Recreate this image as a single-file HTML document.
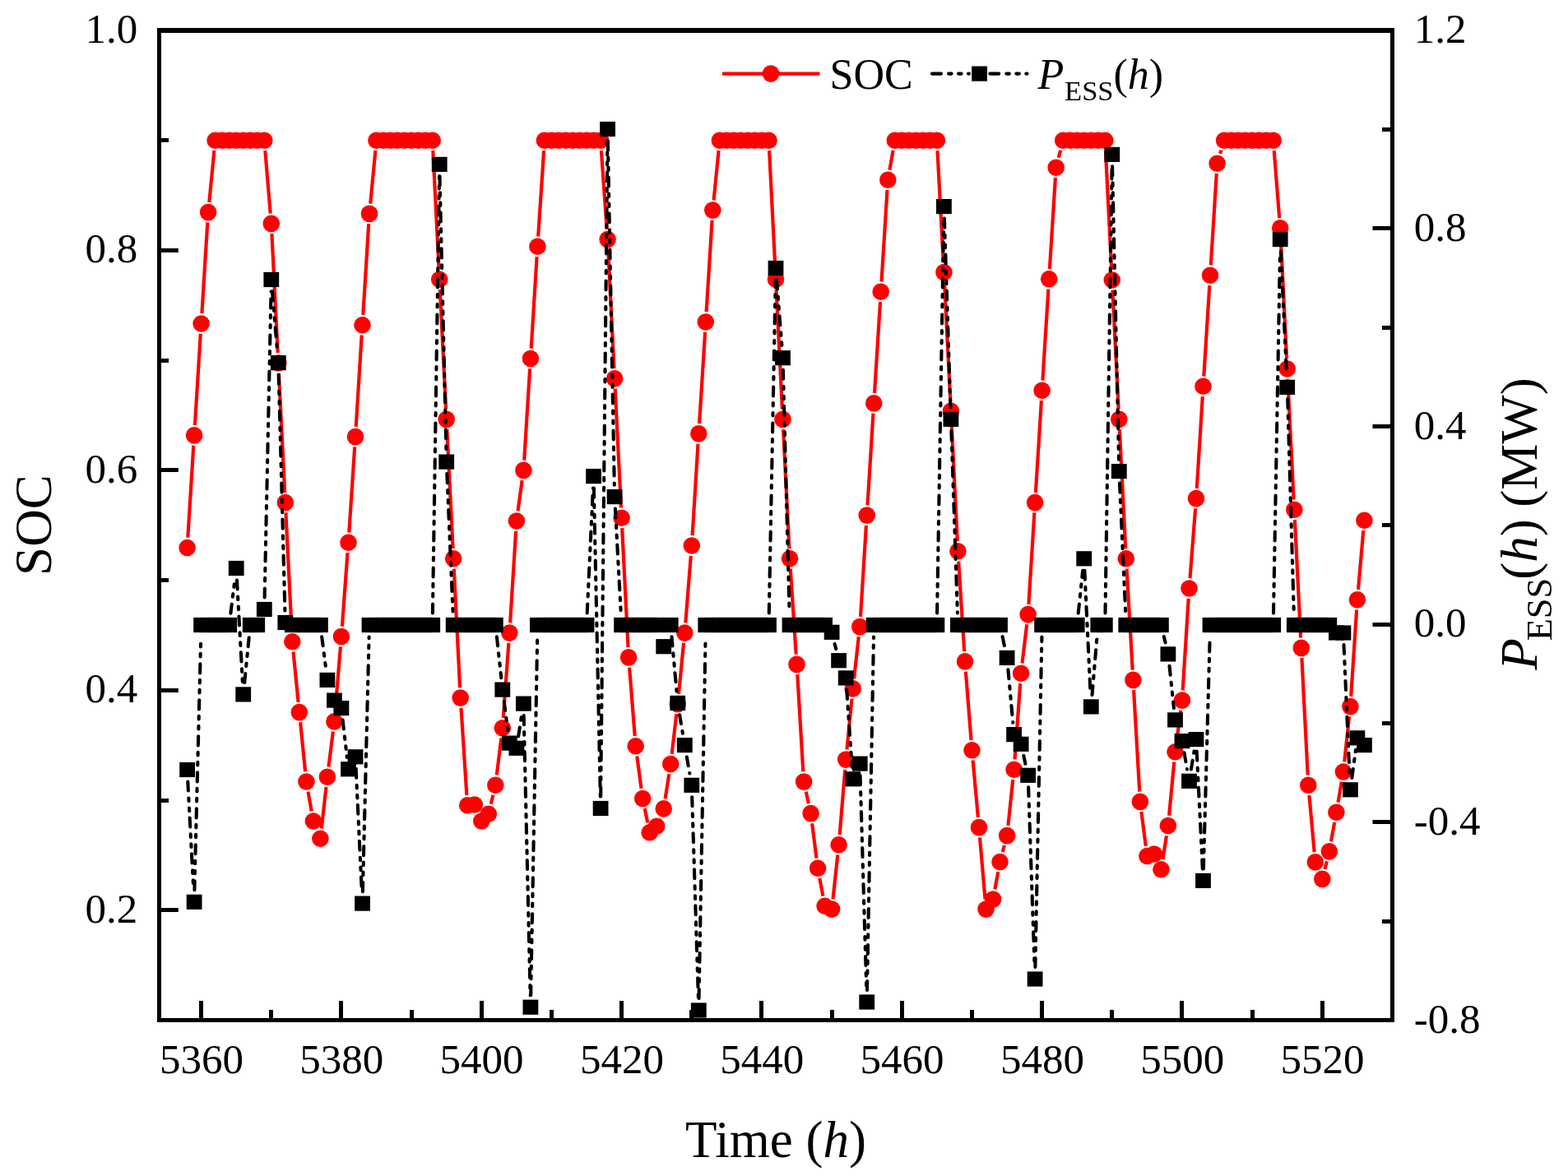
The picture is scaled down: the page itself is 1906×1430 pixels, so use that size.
<!DOCTYPE html>
<html lang="en"><head><meta charset="utf-8"><title>SOC and P_ESS(h) versus Time</title>
<style>html,body{margin:0;padding:0;background:#fff;overflow:hidden}svg{display:block}text{font-family:"Liberation Serif",serif;fill:#000}</style></head><body>
<svg width="1906" height="1430" viewBox="0 0 1906 1430">
<rect width="1906" height="1430" fill="#fff"/>
<g id="soc">
<path d="M228.3 653.7L235.3 541.7M236.9 517.1L243.8 405.8M245.4 381.2L252.3 270.4M254.3 245.9L260.4 183M322.3 183.1L328.7 259.6M330.4 284.2L337.7 429.2M338.9 453.8L346.2 598.8M347.4 623.4L354.7 767.9M356.5 792.4L362.6 853.9M365.1 878.3L371.1 938.3M374.5 962.6L378.7 986.4M390.8 1007.5L396.5 957M399.4 932.6L404.9 889.6M407.4 865.1L413.9 786.3M415.9 761.7L422.5 672.1M424.3 647.5L431.2 543.4M432.7 518.8L439.7 407.5M441.3 382.9L448.2 272.2M450.2 247.7L456.4 183M526.3 183.1L533.6 327.5M534.8 352.1L542.1 497.6M543.3 522.2L550.6 667M551.8 691.6L559.1 836.3M560.5 860.9L567.4 967M596.7 977.8L599.4 966.7M603.8 942.6L609.3 897.5M611.7 873L618.4 781.9M620.1 757.3L627.1 645.8M629.5 621.3L634.7 584.1M637.2 559.6L644.1 448.3M645.7 423.7L652.6 312.1M654.2 287.5L661.1 183.1M730.9 183.1L737.7 278.8M739.2 303.4L746.5 448.1M747.7 472.7L755 617.5M756.2 642.1L763.5 787.1M765.1 811.7L771.7 895M774.3 919.5L779.5 958.8M783.7 983L787.2 1000.3M808.6 971.2L813.3 941.2M816.7 916.8L822.3 868.3M825 843.9L831.1 781.8M833.3 757.3L839.8 675.8M841.6 651.2L848.5 539.7M850.1 515.1L857.1 403.8M858.6 379.2L865.6 267.9M867.6 243.4L873.6 183M935.1 183.1L942.4 327.5M943.6 352.1L950.9 497.6M952.1 522.2L959.4 667M960.8 691.6L967.7 795.6M969.3 820.2L976.3 938.3M979.7 962.6L982.9 977.1M987.1 1001.3L992.5 1043.6M996.3 1067.9L1000.4 1089.7M1012.5 1093.4L1018.3 1039.5M1020.7 1015L1027.2 935.9M1029.4 911.4L1035.5 849.6M1038.1 825.2L1043.8 774.3M1046 749.8L1052.9 638.9M1054.5 614.3L1061.5 502.7M1063 478.1L1070 367.1M1071.5 342.5L1078.5 231M1081.4 206.6L1085.6 182.9M1139.5 183.1L1146.7 318.7M1148 343.3L1155.3 487.6M1156.5 512.2L1163.8 658M1165.2 682.6L1172.2 792.1M1173.9 816.7L1180.5 900M1182.6 924.5L1188.9 993.9M1191 1018.4L1197.5 1093.3M1209.3 1081.5L1213.3 1060.1M1218.7 1036.1L1220.9 1028M1225.4 1003.9L1231.3 948M1233.5 923.5L1240.2 831M1242.5 806.5L1248.2 759.3M1250.4 734.8L1257.4 623.4M1258.9 598.8L1265.9 487.1M1267.4 462.5L1274.4 351.6M1275.9 327L1282.9 216M1286.8 191.8L1289.1 182.7M1343.9 183.1L1351.2 328.2M1352.4 352.8L1359.7 497.6M1360.9 522.2L1368.2 667M1369.6 691.6L1376.7 814.6M1378.1 839.2L1385.2 962.6M1387.4 987.1L1392.8 1028.8M1413.4 1045.1L1418 1016.1M1421.1 991.8L1427.3 926.5M1430.1 902.1L1435.3 863.8M1437.7 839.3L1444.7 727.8M1446.5 703.2L1453.1 618.4M1454.8 593.8L1461.8 482.1M1463.3 457.5L1470.3 347.1M1471.8 322.5L1478.8 211M1483.2 186.9L1484.5 182.6M1548.7 183.1L1555.2 265.1M1556.8 289.7L1564.1 436.2M1565.3 460.8L1572.6 607.5M1573.9 632.1L1581.1 775.6M1582.4 800.2L1589.7 942.5M1591.4 967L1597.7 1036.2M1610.4 1057L1612.8 1047.3M1618 1023.3L1622.2 999.8M1626.5 975.6L1630.8 950.6M1634.2 926.3L1640.1 871.3M1642.2 846.8L1649.1 741.5M1651 716.9L1657.3 645.1" fill="none" stroke="#ff0000" stroke-width="4.2" stroke-linecap="butt"/>
<g fill="#ff0000"><circle cx="227.6" cy="666" r="10.3"/><circle cx="236.1" cy="529.4" r="10.3"/><circle cx="244.6" cy="393.5" r="10.3"/><circle cx="253.1" cy="258.1" r="10.3"/><circle cx="261.6" cy="170.8" r="10.3"/><circle cx="270.2" cy="170.8" r="10.3"/><circle cx="278.7" cy="170.8" r="10.3"/><circle cx="287.2" cy="170.8" r="10.3"/><circle cx="295.7" cy="170.8" r="10.3"/><circle cx="304.2" cy="170.8" r="10.3"/><circle cx="312.7" cy="170.8" r="10.3"/><circle cx="321.3" cy="170.8" r="10.3"/><circle cx="329.8" cy="271.9" r="10.3"/><circle cx="338.3" cy="441.5" r="10.3"/><circle cx="346.8" cy="611.1" r="10.3"/><circle cx="355.3" cy="780.2" r="10.3"/><circle cx="363.8" cy="866.1" r="10.3"/><circle cx="372.4" cy="950.5" r="10.3"/><circle cx="380.9" cy="998.5" r="10.3"/><circle cx="389.4" cy="1019.7" r="10.3"/><circle cx="397.9" cy="944.8" r="10.3"/><circle cx="406.4" cy="877.4" r="10.3"/><circle cx="414.9" cy="774" r="10.3"/><circle cx="423.5" cy="659.8" r="10.3"/><circle cx="432" cy="531.1" r="10.3"/><circle cx="440.5" cy="395.2" r="10.3"/><circle cx="449" cy="259.9" r="10.3"/><circle cx="457.5" cy="170.8" r="10.3"/><circle cx="466" cy="170.8" r="10.3"/><circle cx="474.6" cy="170.8" r="10.3"/><circle cx="483.1" cy="170.8" r="10.3"/><circle cx="491.6" cy="170.8" r="10.3"/><circle cx="500.1" cy="170.8" r="10.3"/><circle cx="508.6" cy="170.8" r="10.3"/><circle cx="517.1" cy="170.8" r="10.3"/><circle cx="525.7" cy="170.8" r="10.3"/><circle cx="534.2" cy="339.8" r="10.3"/><circle cx="542.7" cy="509.9" r="10.3"/><circle cx="551.2" cy="679.3" r="10.3"/><circle cx="559.7" cy="848.6" r="10.3"/><circle cx="568.2" cy="979.3" r="10.3"/><circle cx="576.8" cy="978.5" r="10.3"/><circle cx="585.3" cy="998.5" r="10.3"/><circle cx="593.8" cy="989.7" r="10.3"/><circle cx="602.3" cy="954.8" r="10.3"/><circle cx="610.8" cy="885.3" r="10.3"/><circle cx="619.3" cy="769.6" r="10.3"/><circle cx="627.9" cy="633.5" r="10.3"/><circle cx="636.4" cy="571.9" r="10.3"/><circle cx="644.9" cy="436" r="10.3"/><circle cx="653.4" cy="299.8" r="10.3"/><circle cx="661.9" cy="170.8" r="10.3"/><circle cx="670.4" cy="170.8" r="10.3"/><circle cx="679" cy="170.8" r="10.3"/><circle cx="687.5" cy="170.8" r="10.3"/><circle cx="696" cy="170.8" r="10.3"/><circle cx="704.5" cy="170.8" r="10.3"/><circle cx="713" cy="170.8" r="10.3"/><circle cx="721.6" cy="170.8" r="10.3"/><circle cx="730.1" cy="170.8" r="10.3"/><circle cx="738.6" cy="291.1" r="10.3"/><circle cx="747.1" cy="460.4" r="10.3"/><circle cx="755.6" cy="629.8" r="10.3"/><circle cx="764.1" cy="799.4" r="10.3"/><circle cx="772.7" cy="907.3" r="10.3"/><circle cx="781.2" cy="971" r="10.3"/><circle cx="789.7" cy="1012.3" r="10.3"/><circle cx="798.2" cy="1004.8" r="10.3"/><circle cx="806.7" cy="983.4" r="10.3"/><circle cx="815.2" cy="929" r="10.3"/><circle cx="823.8" cy="856.1" r="10.3"/><circle cx="832.3" cy="769.6" r="10.3"/><circle cx="840.8" cy="663.5" r="10.3"/><circle cx="849.3" cy="527.4" r="10.3"/><circle cx="857.8" cy="391.5" r="10.3"/><circle cx="866.3" cy="255.6" r="10.3"/><circle cx="874.9" cy="170.8" r="10.3"/><circle cx="883.4" cy="170.8" r="10.3"/><circle cx="891.9" cy="170.8" r="10.3"/><circle cx="900.4" cy="170.8" r="10.3"/><circle cx="908.9" cy="170.8" r="10.3"/><circle cx="917.4" cy="170.8" r="10.3"/><circle cx="926" cy="170.8" r="10.3"/><circle cx="934.5" cy="170.8" r="10.3"/><circle cx="943" cy="339.8" r="10.3"/><circle cx="951.5" cy="509.9" r="10.3"/><circle cx="960" cy="679.3" r="10.3"/><circle cx="968.5" cy="807.9" r="10.3"/><circle cx="977.1" cy="950.6" r="10.3"/><circle cx="985.6" cy="989.1" r="10.3"/><circle cx="994.1" cy="1055.8" r="10.3"/><circle cx="1002.6" cy="1101.8" r="10.3"/><circle cx="1011.1" cy="1105.6" r="10.3"/><circle cx="1019.6" cy="1027.3" r="10.3"/><circle cx="1028.2" cy="923.6" r="10.3"/><circle cx="1036.7" cy="837.4" r="10.3"/><circle cx="1045.2" cy="762.1" r="10.3"/><circle cx="1053.7" cy="626.6" r="10.3"/><circle cx="1062.2" cy="490.4" r="10.3"/><circle cx="1070.7" cy="354.8" r="10.3"/><circle cx="1079.3" cy="218.7" r="10.3"/><circle cx="1087.8" cy="170.8" r="10.3"/><circle cx="1096.3" cy="170.8" r="10.3"/><circle cx="1104.8" cy="170.8" r="10.3"/><circle cx="1113.3" cy="170.8" r="10.3"/><circle cx="1121.9" cy="170.8" r="10.3"/><circle cx="1130.4" cy="170.8" r="10.3"/><circle cx="1138.9" cy="170.8" r="10.3"/><circle cx="1147.4" cy="331" r="10.3"/><circle cx="1155.9" cy="499.9" r="10.3"/><circle cx="1164.4" cy="670.3" r="10.3"/><circle cx="1173" cy="804.4" r="10.3"/><circle cx="1181.5" cy="912.3" r="10.3"/><circle cx="1190" cy="1006.1" r="10.3"/><circle cx="1198.5" cy="1105.6" r="10.3"/><circle cx="1207" cy="1093.6" r="10.3"/><circle cx="1215.5" cy="1048" r="10.3"/><circle cx="1224.1" cy="1016.1" r="10.3"/><circle cx="1232.6" cy="935.8" r="10.3"/><circle cx="1241.1" cy="818.7" r="10.3"/><circle cx="1249.6" cy="747.1" r="10.3"/><circle cx="1258.1" cy="611.1" r="10.3"/><circle cx="1266.6" cy="474.8" r="10.3"/><circle cx="1275.2" cy="339.3" r="10.3"/><circle cx="1283.7" cy="203.7" r="10.3"/><circle cx="1292.2" cy="170.8" r="10.3"/><circle cx="1300.7" cy="170.8" r="10.3"/><circle cx="1309.2" cy="170.8" r="10.3"/><circle cx="1317.7" cy="170.8" r="10.3"/><circle cx="1326.3" cy="170.8" r="10.3"/><circle cx="1334.8" cy="170.8" r="10.3"/><circle cx="1343.3" cy="170.8" r="10.3"/><circle cx="1351.8" cy="340.5" r="10.3"/><circle cx="1360.3" cy="509.9" r="10.3"/><circle cx="1368.8" cy="679.3" r="10.3"/><circle cx="1377.4" cy="826.9" r="10.3"/><circle cx="1385.9" cy="974.9" r="10.3"/><circle cx="1394.4" cy="1041" r="10.3"/><circle cx="1402.9" cy="1038.5" r="10.3"/><circle cx="1411.4" cy="1057.2" r="10.3"/><circle cx="1419.9" cy="1004" r="10.3"/><circle cx="1428.5" cy="914.3" r="10.3"/><circle cx="1437" cy="851.6" r="10.3"/><circle cx="1445.5" cy="715.5" r="10.3"/><circle cx="1454" cy="606.1" r="10.3"/><circle cx="1462.5" cy="469.8" r="10.3"/><circle cx="1471" cy="334.8" r="10.3"/><circle cx="1479.6" cy="198.7" r="10.3"/><circle cx="1488.1" cy="170.8" r="10.3"/><circle cx="1496.6" cy="170.8" r="10.3"/><circle cx="1505.1" cy="170.8" r="10.3"/><circle cx="1513.6" cy="170.8" r="10.3"/><circle cx="1522.1" cy="170.8" r="10.3"/><circle cx="1530.7" cy="170.8" r="10.3"/><circle cx="1539.2" cy="170.8" r="10.3"/><circle cx="1547.7" cy="170.8" r="10.3"/><circle cx="1556.2" cy="277.4" r="10.3"/><circle cx="1564.7" cy="448.5" r="10.3"/><circle cx="1573.3" cy="619.8" r="10.3"/><circle cx="1581.8" cy="787.9" r="10.3"/><circle cx="1590.3" cy="954.8" r="10.3"/><circle cx="1598.8" cy="1048.4" r="10.3"/><circle cx="1607.3" cy="1068.9" r="10.3"/><circle cx="1615.8" cy="1035.4" r="10.3"/><circle cx="1624.4" cy="987.7" r="10.3"/><circle cx="1632.9" cy="938.5" r="10.3"/><circle cx="1641.4" cy="859.1" r="10.3"/><circle cx="1649.9" cy="729.2" r="10.3"/><circle cx="1658.4" cy="632.8" r="10.3"/></g>
</g>
<g id="pess">
<path d="M228.3 950.5L235.3 1082.3M236.4 1082.3L244.2 774.5M280.4 745.6L285.4 705.4M288 705.5L294.9 829.9M297.2 830L302.8 774.4M321.6 726.5L329.5 354.5M331 354.4L337.1 426.8M338.7 455.7L346.4 742.5M391.2 774.4L396.1 812.5M416.6 875.5L421.8 920.9M432.7 934.8L439.8 1084.1M440.9 1084.1L448.6 774.5M525.9 745.5L534 214.4M534.5 214.4L542.4 547.1M543.3 576.1L550.6 745.5M603.9 774.4L609.3 824.2M612.7 853L617.5 889.2M630.1 895.5L634.1 869.9M636.7 870.1L644.6 1210.2M645.2 1210.2L653.2 774.5M713.7 745.5L720.9 593.6M721.9 593.6L729.8 968.5M730.2 968.5L738.4 171.5M738.9 171.5L746.8 589.6M747.9 618.6L754.8 745.5M816.5 774.4L822.5 840.5M826.1 869.2L829.9 891.8M834.8 920.4L838.3 940.5M841.2 969.3L848.9 1214M849.6 1214L857.6 774.5M934.8 745.5L942.7 340.5M944.1 340.5L950.4 420.7M951.9 449.7L959.6 745.5M1014.6 782.9L1016.2 789.1M1029.2 838.9L1035.7 932.8M1045.6 943.1L1053.3 1204M1054 1204L1062 774.5M1139.1 745.5L1147.2 265.6M1147.9 265.6L1155.4 495.4M1156.4 524.4L1163.9 745.5M1218.6 774.2L1221 785.7M1225.4 814.3L1231.3 878.7M1244.3 918.9L1246.4 928.7M1250.1 957.3L1257.6 1176M1258.4 1176L1266.4 774.5M1310.7 745.6L1316.2 693.7M1318.4 693.8L1325.6 844.9M1327.5 845L1333.5 774.4M1343.5 745.5L1351.6 202.4M1352.1 202.4L1360 558.6M1361 587.6L1368.2 745.5M1414.8 774.1L1416.6 781.3M1421.5 809.8L1426.9 861M1439.5 915.4L1443 935.5M1447.9 935.5L1451.6 913.4M1454.7 913.6L1461.8 1056.4M1462.9 1056.4L1470.7 774.5M1548 745.5L1556 305.6M1556.9 305.6L1564 456.4M1565.2 485.4L1572.8 745.5M1633.5 784L1640.7 945.8M1643.3 945.9L1648 911.7" fill="none" stroke="#000" stroke-width="4.1" stroke-linecap="round" stroke-dasharray="11 9 3.6 8.4 3.6 8.4"/>
<g fill="#000"><rect x="218.2" y="926.9" width="18.8" height="18.2"/><rect x="226.7" y="1087.7" width="18.8" height="18.2"/><rect x="235.2" y="750.9" width="18.8" height="18.2"/><rect x="243.7" y="750.9" width="18.8" height="18.2"/><rect x="252.2" y="750.9" width="18.8" height="18.2"/><rect x="260.8" y="750.9" width="18.8" height="18.2"/><rect x="269.3" y="750.9" width="18.8" height="18.2"/><rect x="277.8" y="681.9" width="18.8" height="18.2"/><rect x="286.3" y="835.3" width="18.8" height="18.2"/><rect x="294.8" y="750.9" width="18.8" height="18.2"/><rect x="303.3" y="750.9" width="18.8" height="18.2"/><rect x="311.9" y="731.9" width="18.8" height="18.2"/><rect x="320.4" y="330.9" width="18.8" height="18.2"/><rect x="328.9" y="432.1" width="18.8" height="18.2"/><rect x="337.4" y="747.9" width="18.8" height="18.2"/><rect x="345.9" y="750.9" width="18.8" height="18.2"/><rect x="354.4" y="750.9" width="18.8" height="18.2"/><rect x="363" y="750.9" width="18.8" height="18.2"/><rect x="371.5" y="750.9" width="18.8" height="18.2"/><rect x="380" y="750.9" width="18.8" height="18.2"/><rect x="388.5" y="817.8" width="18.8" height="18.2"/><rect x="397" y="842.5" width="18.8" height="18.2"/><rect x="405.5" y="852" width="18.8" height="18.2"/><rect x="414.1" y="926.2" width="18.8" height="18.2"/><rect x="422.6" y="911.2" width="18.8" height="18.2"/><rect x="431.1" y="1089.5" width="18.8" height="18.2"/><rect x="439.6" y="750.9" width="18.8" height="18.2"/><rect x="448.1" y="750.9" width="18.8" height="18.2"/><rect x="456.6" y="750.9" width="18.8" height="18.2"/><rect x="465.2" y="750.9" width="18.8" height="18.2"/><rect x="473.7" y="750.9" width="18.8" height="18.2"/><rect x="482.2" y="750.9" width="18.8" height="18.2"/><rect x="490.7" y="750.9" width="18.8" height="18.2"/><rect x="499.2" y="750.9" width="18.8" height="18.2"/><rect x="507.7" y="750.9" width="18.8" height="18.2"/><rect x="516.3" y="750.9" width="18.8" height="18.2"/><rect x="524.8" y="190.8" width="18.8" height="18.2"/><rect x="533.3" y="552.5" width="18.8" height="18.2"/><rect x="541.8" y="750.9" width="18.8" height="18.2"/><rect x="550.3" y="750.9" width="18.8" height="18.2"/><rect x="558.8" y="750.9" width="18.8" height="18.2"/><rect x="567.4" y="750.9" width="18.8" height="18.2"/><rect x="575.9" y="750.9" width="18.8" height="18.2"/><rect x="584.4" y="750.9" width="18.8" height="18.2"/><rect x="592.9" y="750.9" width="18.8" height="18.2"/><rect x="601.4" y="829.5" width="18.8" height="18.2"/><rect x="609.9" y="894.5" width="18.8" height="18.2"/><rect x="618.5" y="900.7" width="18.8" height="18.2"/><rect x="627" y="846.5" width="18.8" height="18.2"/><rect x="635.5" y="1215.6" width="18.8" height="18.2"/><rect x="644" y="750.9" width="18.8" height="18.2"/><rect x="652.5" y="750.9" width="18.8" height="18.2"/><rect x="661" y="750.9" width="18.8" height="18.2"/><rect x="669.6" y="750.9" width="18.8" height="18.2"/><rect x="678.1" y="750.9" width="18.8" height="18.2"/><rect x="686.6" y="750.9" width="18.8" height="18.2"/><rect x="695.1" y="750.9" width="18.8" height="18.2"/><rect x="703.6" y="750.9" width="18.8" height="18.2"/><rect x="712.2" y="570" width="18.8" height="18.2"/><rect x="720.7" y="973.9" width="18.8" height="18.2"/><rect x="729.2" y="147.9" width="18.8" height="18.2"/><rect x="737.7" y="595" width="18.8" height="18.2"/><rect x="746.2" y="750.9" width="18.8" height="18.2"/><rect x="754.7" y="750.9" width="18.8" height="18.2"/><rect x="763.3" y="750.9" width="18.8" height="18.2"/><rect x="771.8" y="750.9" width="18.8" height="18.2"/><rect x="780.3" y="750.9" width="18.8" height="18.2"/><rect x="788.8" y="750.9" width="18.8" height="18.2"/><rect x="797.3" y="777.1" width="18.8" height="18.2"/><rect x="805.8" y="750.9" width="18.8" height="18.2"/><rect x="814.4" y="845.8" width="18.8" height="18.2"/><rect x="822.9" y="897" width="18.8" height="18.2"/><rect x="831.4" y="945.7" width="18.8" height="18.2"/><rect x="839.9" y="1219.4" width="18.8" height="18.2"/><rect x="848.4" y="750.9" width="18.8" height="18.2"/><rect x="856.9" y="750.9" width="18.8" height="18.2"/><rect x="865.5" y="750.9" width="18.8" height="18.2"/><rect x="874" y="750.9" width="18.8" height="18.2"/><rect x="882.5" y="750.9" width="18.8" height="18.2"/><rect x="891" y="750.9" width="18.8" height="18.2"/><rect x="899.5" y="750.9" width="18.8" height="18.2"/><rect x="908" y="750.9" width="18.8" height="18.2"/><rect x="916.6" y="750.9" width="18.8" height="18.2"/><rect x="925.1" y="750.9" width="18.8" height="18.2"/><rect x="933.6" y="316.9" width="18.8" height="18.2"/><rect x="942.1" y="426.1" width="18.8" height="18.2"/><rect x="950.6" y="750.9" width="18.8" height="18.2"/><rect x="959.1" y="750.9" width="18.8" height="18.2"/><rect x="967.7" y="750.9" width="18.8" height="18.2"/><rect x="976.2" y="750.9" width="18.8" height="18.2"/><rect x="984.7" y="750.9" width="18.8" height="18.2"/><rect x="993.2" y="750.9" width="18.8" height="18.2"/><rect x="1001.7" y="759.7" width="18.8" height="18.2"/><rect x="1010.2" y="794.1" width="18.8" height="18.2"/><rect x="1018.8" y="815.3" width="18.8" height="18.2"/><rect x="1027.3" y="938.2" width="18.8" height="18.2"/><rect x="1035.8" y="919.5" width="18.8" height="18.2"/><rect x="1044.3" y="1209.4" width="18.8" height="18.2"/><rect x="1052.8" y="750.9" width="18.8" height="18.2"/><rect x="1061.3" y="750.9" width="18.8" height="18.2"/><rect x="1069.9" y="750.9" width="18.8" height="18.2"/><rect x="1078.4" y="750.9" width="18.8" height="18.2"/><rect x="1086.9" y="750.9" width="18.8" height="18.2"/><rect x="1095.4" y="750.9" width="18.8" height="18.2"/><rect x="1103.9" y="750.9" width="18.8" height="18.2"/><rect x="1112.5" y="750.9" width="18.8" height="18.2"/><rect x="1121" y="750.9" width="18.8" height="18.2"/><rect x="1129.5" y="750.9" width="18.8" height="18.2"/><rect x="1138" y="242" width="18.8" height="18.2"/><rect x="1146.5" y="500.8" width="18.8" height="18.2"/><rect x="1155" y="750.9" width="18.8" height="18.2"/><rect x="1163.6" y="750.9" width="18.8" height="18.2"/><rect x="1172.1" y="750.9" width="18.8" height="18.2"/><rect x="1180.6" y="750.9" width="18.8" height="18.2"/><rect x="1189.1" y="750.9" width="18.8" height="18.2"/><rect x="1197.6" y="750.9" width="18.8" height="18.2"/><rect x="1206.1" y="750.9" width="18.8" height="18.2"/><rect x="1214.7" y="790.8" width="18.8" height="18.2"/><rect x="1223.2" y="884" width="18.8" height="18.2"/><rect x="1231.7" y="895.7" width="18.8" height="18.2"/><rect x="1240.2" y="933.7" width="18.8" height="18.2"/><rect x="1248.7" y="1181.4" width="18.8" height="18.2"/><rect x="1257.2" y="750.9" width="18.8" height="18.2"/><rect x="1265.8" y="750.9" width="18.8" height="18.2"/><rect x="1274.3" y="750.9" width="18.8" height="18.2"/><rect x="1282.8" y="750.9" width="18.8" height="18.2"/><rect x="1291.3" y="750.9" width="18.8" height="18.2"/><rect x="1299.8" y="750.9" width="18.8" height="18.2"/><rect x="1308.3" y="670.2" width="18.8" height="18.2"/><rect x="1316.9" y="850.3" width="18.8" height="18.2"/><rect x="1325.4" y="750.9" width="18.8" height="18.2"/><rect x="1333.9" y="750.9" width="18.8" height="18.2"/><rect x="1342.4" y="178.8" width="18.8" height="18.2"/><rect x="1350.9" y="564" width="18.8" height="18.2"/><rect x="1359.4" y="750.9" width="18.8" height="18.2"/><rect x="1368" y="750.9" width="18.8" height="18.2"/><rect x="1376.5" y="750.9" width="18.8" height="18.2"/><rect x="1385" y="750.9" width="18.8" height="18.2"/><rect x="1393.5" y="750.9" width="18.8" height="18.2"/><rect x="1402" y="750.9" width="18.8" height="18.2"/><rect x="1410.5" y="786.3" width="18.8" height="18.2"/><rect x="1419.1" y="866.3" width="18.8" height="18.2"/><rect x="1427.6" y="892" width="18.8" height="18.2"/><rect x="1436.1" y="940.7" width="18.8" height="18.2"/><rect x="1444.6" y="890" width="18.8" height="18.2"/><rect x="1453.1" y="1061.8" width="18.8" height="18.2"/><rect x="1461.6" y="750.9" width="18.8" height="18.2"/><rect x="1470.2" y="750.9" width="18.8" height="18.2"/><rect x="1478.7" y="750.9" width="18.8" height="18.2"/><rect x="1487.2" y="750.9" width="18.8" height="18.2"/><rect x="1495.7" y="750.9" width="18.8" height="18.2"/><rect x="1504.2" y="750.9" width="18.8" height="18.2"/><rect x="1512.7" y="750.9" width="18.8" height="18.2"/><rect x="1521.3" y="750.9" width="18.8" height="18.2"/><rect x="1529.8" y="750.9" width="18.8" height="18.2"/><rect x="1538.3" y="750.9" width="18.8" height="18.2"/><rect x="1546.8" y="282" width="18.8" height="18.2"/><rect x="1555.3" y="461.8" width="18.8" height="18.2"/><rect x="1563.9" y="750.9" width="18.8" height="18.2"/><rect x="1572.4" y="750.9" width="18.8" height="18.2"/><rect x="1580.9" y="750.9" width="18.8" height="18.2"/><rect x="1589.4" y="750.9" width="18.8" height="18.2"/><rect x="1597.9" y="750.9" width="18.8" height="18.2"/><rect x="1606.4" y="750.9" width="18.8" height="18.2"/><rect x="1615" y="760.4" width="18.8" height="18.2"/><rect x="1623.5" y="760.4" width="18.8" height="18.2"/><rect x="1632" y="951.2" width="18.8" height="18.2"/><rect x="1640.5" y="888.2" width="18.8" height="18.2"/><rect x="1649" y="897" width="18.8" height="18.2"/></g>
</g>
<g id="axes" stroke="#000" fill="none" stroke-linecap="butt">
<path d="M193.5 34V1243" stroke-width="5.0"/>
<path d="M1692.5 34V1243" stroke-width="5.0"/>
<path d="M191 37H1695" stroke-width="6.0"/>
<path d="M191 1240.5H1695" stroke-width="5.0"/>
<path d="M244.5 1240.5V1217M329.5 1240.5V1227.9M414.5 1240.5V1217M500.5 1240.5V1227.9M585.5 1240.5V1217M670.5 1240.5V1227.9M755.5 1240.5V1217M840.5 1240.5V1227.9M925.5 1240.5V1217M1011.5 1240.5V1227.9M1096.5 1240.5V1217M1181.5 1240.5V1227.9M1266.5 1240.5V1217M1351.5 1240.5V1227.9M1436.5 1240.5V1217M1522.5 1240.5V1227.9M1607.5 1240.5V1217M193.5 170.5H205M193.5 304.5H216.8M193.5 438.5H205M193.5 571.5H216.8M193.5 705.5H205M193.5 839.5H216.8M193.5 973.5H205M193.5 1106.5H216.8M1692.5 157.5H1680M1692.5 277.5H1668.5M1692.5 398.5H1680M1692.5 518.5H1668.5M1692.5 638.5H1680M1692.5 759.5H1668.5M1692.5 879.5H1680M1692.5 999.5H1668.5M1692.5 1120.5H1680" stroke-width="5.0"/>
</g>
<g id="ticklabels" font-size="51">
<text x="244.9" y="1305" text-anchor="middle">5360</text>
<text x="415.2" y="1305" text-anchor="middle">5380</text>
<text x="585.6" y="1305" text-anchor="middle">5400</text>
<text x="755.9" y="1305" text-anchor="middle">5420</text>
<text x="926.3" y="1305" text-anchor="middle">5440</text>
<text x="1096.6" y="1305" text-anchor="middle">5460</text>
<text x="1266.9" y="1305" text-anchor="middle">5480</text>
<text x="1437.3" y="1305" text-anchor="middle">5500</text>
<text x="1607.6" y="1305" text-anchor="middle">5520</text>
<text x="167.3" y="51.9" text-anchor="end">1.0</text>
<text x="167.3" y="319.3" text-anchor="end">0.8</text>
<text x="167.3" y="586.8" text-anchor="end">0.6</text>
<text x="167.3" y="854.2" text-anchor="end">0.4</text>
<text x="167.3" y="1121.7" text-anchor="end">0.2</text>
<text x="1718.8" y="52.1" text-anchor="start">1.2</text>
<text x="1718.8" y="292.8" text-anchor="start">0.8</text>
<text x="1718.8" y="533.5" text-anchor="start">0.4</text>
<text x="1718.8" y="774.2" text-anchor="start">0.0</text>
<text x="1718.8" y="1014.9" text-anchor="start">-0.4</text>
<text x="1718.8" y="1255.6" text-anchor="start">-0.8</text>
</g>
<g id="titles" font-size="63">
<text x="943" y="1407" text-anchor="middle">Time (<tspan font-style="italic">h</tspan>)</text>
<text transform="translate(61.5 638.6) rotate(-90)" text-anchor="middle">SOC</text>
<text transform="translate(1868 637) rotate(-90)" text-anchor="middle"><tspan font-style="italic">P</tspan><tspan font-size="44.3" dx="-3.1" dy="17.5">ESS</tspan><tspan dx="-1.7" dy="-17.5">(</tspan><tspan font-style="italic">h</tspan>)<tspan dx="-1.3"> (</tspan><tspan dx="0">M</tspan><tspan dx="0">W</tspan>)</text>
</g>
<g id="legend">
<path d="M878 89.6H929M945 89.6H996.5" stroke="#ff0000" stroke-width="4.2" fill="none"/>
<circle cx="937" cy="89.6" r="10.3" fill="#ff0000"/>
<path d="M1133 89.6H1177.9M1203.3 89.6H1248.5" stroke="#000" stroke-width="4.1" fill="none" stroke-linecap="round" stroke-dasharray="11 9 3.6 8.4 3.6 8.4"/>
<rect x="1181.2" y="80.5" width="18.8" height="18.2" fill="#000"/>
<g font-size="52">
<text x="1008.5" y="108">SOC</text>
<text x="1261.5" y="108"><tspan font-style="italic">P</tspan><tspan font-size="34.5" dx="0.8" dy="13.5">ESS</tspan><tspan dx="0" dy="-13.5">(</tspan><tspan font-style="italic">h</tspan>)</text>
</g></g>
</svg></body></html>
